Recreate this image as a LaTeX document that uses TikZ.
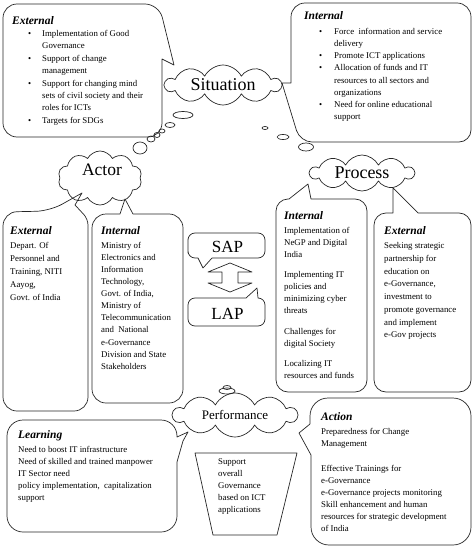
\documentclass[tikz,border=0pt]{standalone}
\usepackage{fontspec}
\setmainfont{Liberation Serif}
\usetikzlibrary{shapes.symbols}

\newcommand{\boxhead}[1]{{\fontsize{11.5}{12}\selectfont\bfseries\itshape #1}}

\begin{document}
\begin{tikzpicture}[x=1pt, y=-1pt,
    outline/.style={draw=black!85, line width=0.7pt, line join=round},
    thought/.style={cloud, draw=black!85, line width=0.7pt, cloud puffs=10, cloud puff arc=125, cloud ignores aspect, inner sep=0pt},
    bubtext/.style={anchor=north west, inner sep=0pt, align=left, font=\fontsize{8.8}{12.2}\selectfont},
    bigword/.style={inner sep=0pt, font=\fontsize{18}{18}\selectfont}]
        \useasboundingbox (0,0) rectangle (474,548);%

        % Clouds of the four stages
        \node [thought, bigword, minimum width=116pt, minimum height=40pt] (situation) at (223,85) {Situation};%
        \node [thought, minimum width=84pt, minimum height=54pt] (actor) at (100,178) {};%
        \node [bigword, font=\fontsize{17.5}{18}\selectfont] (actorword) at (102,170) {Actor};%
        \node [thought, bigword, minimum width=104pt, minimum height=36pt] (process) at (362,173) {Process};%
        \node [thought, bigword, font=\fontsize{13}{14}\selectfont, minimum width=124pt, minimum height=44pt] (performance) at (235,415) {Performance};%

        % Small bubbles from Situation to Actor
        \draw [outline] (183,115) ellipse [x radius=10, y radius=3.5];%
        \draw [outline] (170,125) ellipse [x radius=5, y radius=2.5];%
        \draw [outline] (162,131) ellipse [x radius=3, y radius=2];%
        \draw [outline] (157,135) ellipse [x radius=3, y radius=2.5];%
        \draw [outline] (151,139) ellipse [x radius=4, y radius=3];%
        \draw [outline] (140,148) ellipse [x radius=7, y radius=6];%

        % Small bubbles from Situation to Process
        \draw [outline] (265,128) ellipse [x radius=3, y radius=1.5];%
        \draw [outline] (283,137) ellipse [x radius=6, y radius=2.5];%
        \draw [outline] (306,147) ellipse [x radius=7.5, y radius=4];%

        % Lid on top of Performance
        \draw [outline] (227,391) ellipse [x radius=8, y radius=3];%
        \draw [outline] (227,387.5) ellipse [x radius=4, y radius=2];%

        % Callout External of Situation
        \draw [outline] (3,70) [rounded corners=14pt] -- (3,4) -- (159,4) [sharp corners] -- (174,65) -- (162,59) [rounded corners=14pt] -- (162,137) -- (3,137) -- cycle;%
        \node [bubtext, font=\fontsize{8.8}{12.4}\selectfont] (sitext) at (12,16) {\boxhead{External}\\
            \begin{tabular}[t]{@{\hspace{16pt}}p{14pt}@{}l@{}}
            \textbullet & Implementation of Good\\
                        & Governance\\
            \textbullet & Support of change\\
                        & management\\
            \textbullet & Support for changing mind\\
                        & sets of civil society and their\\
                        & roles for ICTs\\
            \textbullet & Targets for SDGs
            \end{tabular}};%

        % Callout Internal of Situation
        \draw [outline] (471,70) [rounded corners=14pt] -- (471,3) -- (291,3) [sharp corners] -- (291,83) -- (282,83) [rounded corners=12pt] -- (300,142) -- (471,142) -- cycle;%
        \node [bubtext] (sitint) at (304,11) {\boxhead{Internal}\\[3pt]
            \begin{tabular}[t]{@{\hspace{15pt}}p{15pt}@{}l@{}}
            \textbullet & Force\ \ information and service\\
                        & delivery\\
            \textbullet & Promote ICT applications\\
            \textbullet & Allocation of funds and IT\\
                        & resources to all sectors and\\
                        & organizations\\
            \textbullet & Need for online educational\\
                        & support
            \end{tabular}};%

        % Callout External of Actor
        \draw [outline] (3,300) [rounded corners=14pt] -- (3,212) -- (50,211) [sharp corners] -- (82,193) -- (75,205) [rounded corners=6pt] -- (88,219) [rounded corners=14pt] -- (88,411) -- (3,411) -- cycle;%
        \node [bubtext, font=\fontsize{8.8}{13}\selectfont] (actext) at (10,226) {\boxhead{External}\\[1pt]
            Depart. Of\\ Personnel and\\ Training, NITI\\ Aayog,\\ Govt. of India};%

        % Callout Internal of Actor
        \draw [outline] (92,300) [rounded corners=14pt] -- (92,214) [sharp corners] -- (120,214) -- (125,199) -- (133,214) [rounded corners=14pt] -- (183,214) -- (183,403) -- (92,403) -- cycle;%
        \node [bubtext, font=\fontsize{8.8}{12.1}\selectfont] (actint) at (101,226) {\boxhead{Internal}\\[2pt]
            Ministry of\\ Electronics and\\ Information\\ Technology,\\ Govt. of India,\\ Ministry of\\
            Telecommunication\\ and\ \ National\\ e-Governance\\ Division and State\\ Stakeholders};%

        % SAP and LAP with the double arrow
        \draw [outline] (188,246) [rounded corners=7pt] -- (188,233) -- (265,233) -- (265,258) [sharp corners] -- (212,258) -- (203,268) -- (198,258) [rounded corners=7pt] -- (188,258) -- cycle;%
        \node [bigword, font=\fontsize{17}{18}\selectfont] (sap) at (227.5,247) {SAP};%
        \draw [outline] (188,312) [rounded corners=7pt] -- (188,298) [sharp corners] -- (246,298) -- (257,288) -- (258,298) [rounded corners=7pt] -- (265,298) -- (265,326) -- (188,326) -- cycle;%
        \node [bigword, font=\fontsize{17}{18}\selectfont] (lap) at (227.5,314) {LAP};%
        \draw [outline] (230,263) -- (252,272) -- (238,272) -- (238,283) -- (252,283) -- (230,292) -- (208,283) -- (222,283) -- (222,272) -- (208,272) -- cycle;%

        % Callout Internal of Process
        \draw [outline] (276,300) [rounded corners=12pt] -- (276,199) [sharp corners] -- (289,199) -- (308,184) -- (311,199) [rounded corners=12pt] -- (367,199) -- (367,392) -- (276,392) -- cycle;%
        \node [bubtext, font=\fontsize{8.8}{12}\selectfont] (procint) at (284,211) {\boxhead{Internal}\\[2pt]
            Implementation of\\ NeGP and Digital\\ India\\[8pt]
            Implementing IT\\ policies and\\ minimizing cyber\\ threats\\[9pt]
            Challenges for\\ digital Society\\[8pt]
            Localizing IT\\ resources and funds};%

        % Callout External of Process
        \draw [outline] (374,300) [rounded corners=12pt] -- (374,213) [sharp corners] -- (393,213) -- (393,188) -- (418,213) [rounded corners=12pt] -- (471,213) -- (471,392) -- (374,392) -- cycle;%
        \node [bubtext, font=\fontsize{8.8}{12.7}\selectfont] (procext) at (384,226) {\boxhead{External}\\[2pt]
            Seeking strategic\\ partnership for\\ education on\\ e-Governance,\\ investment to\\
            promote governance\\ and implement\\ e-Gov projects};%

        % Callout Learning of Performance
        \draw [outline] (7,470) [rounded corners=16pt] -- (7,420) -- (177,420) [sharp corners] -- (177,437) -- (188,432) -- (183,441) -- (177,462) [rounded corners=16pt] -- (177,532) -- (7,532) -- cycle;%
        \node [bubtext, font=\fontsize{8.8}{12}\selectfont] (learning) at (18,430) {\boxhead{Learning}\\[2pt]
            Need to boost IT infrastructure\\ Need of skilled and trained manpower\\ IT Sector need\\
            policy implementation,\ \ capitalization\\ support};%

        % Callout Action of Performance
        \draw [outline] (471,470) [rounded corners=18pt] -- (471,398) -- (310,398) [sharp corners] -- (310,424) -- (299,433) -- (311,455) [rounded corners=18pt] -- (311,545) -- (471,545) -- cycle;%
        \node [bubtext, font=\fontsize{8.8}{12}\selectfont] (action) at (321,412) {\boxhead{Action}\\[2pt]
            Preparedness for Change\\ Management\\[13pt]
            Effective Trainings for\\ e-Governance\\ e-Governance projects monitoring\\
            Skill enhancement and human\\ resources for strategic development\\ of India};%

        % Bucket under Performance
        \draw [outline] (195,453) -- (297,453) -- (277,535) -- (213,535) -- cycle;%
        \node [bubtext, font=\fontsize{8.8}{12}\selectfont] (support) at (218,458.5) {Support\\ overall\\ Governance\\ based on ICT\\ applications};%
\end{tikzpicture}
\end{document}
